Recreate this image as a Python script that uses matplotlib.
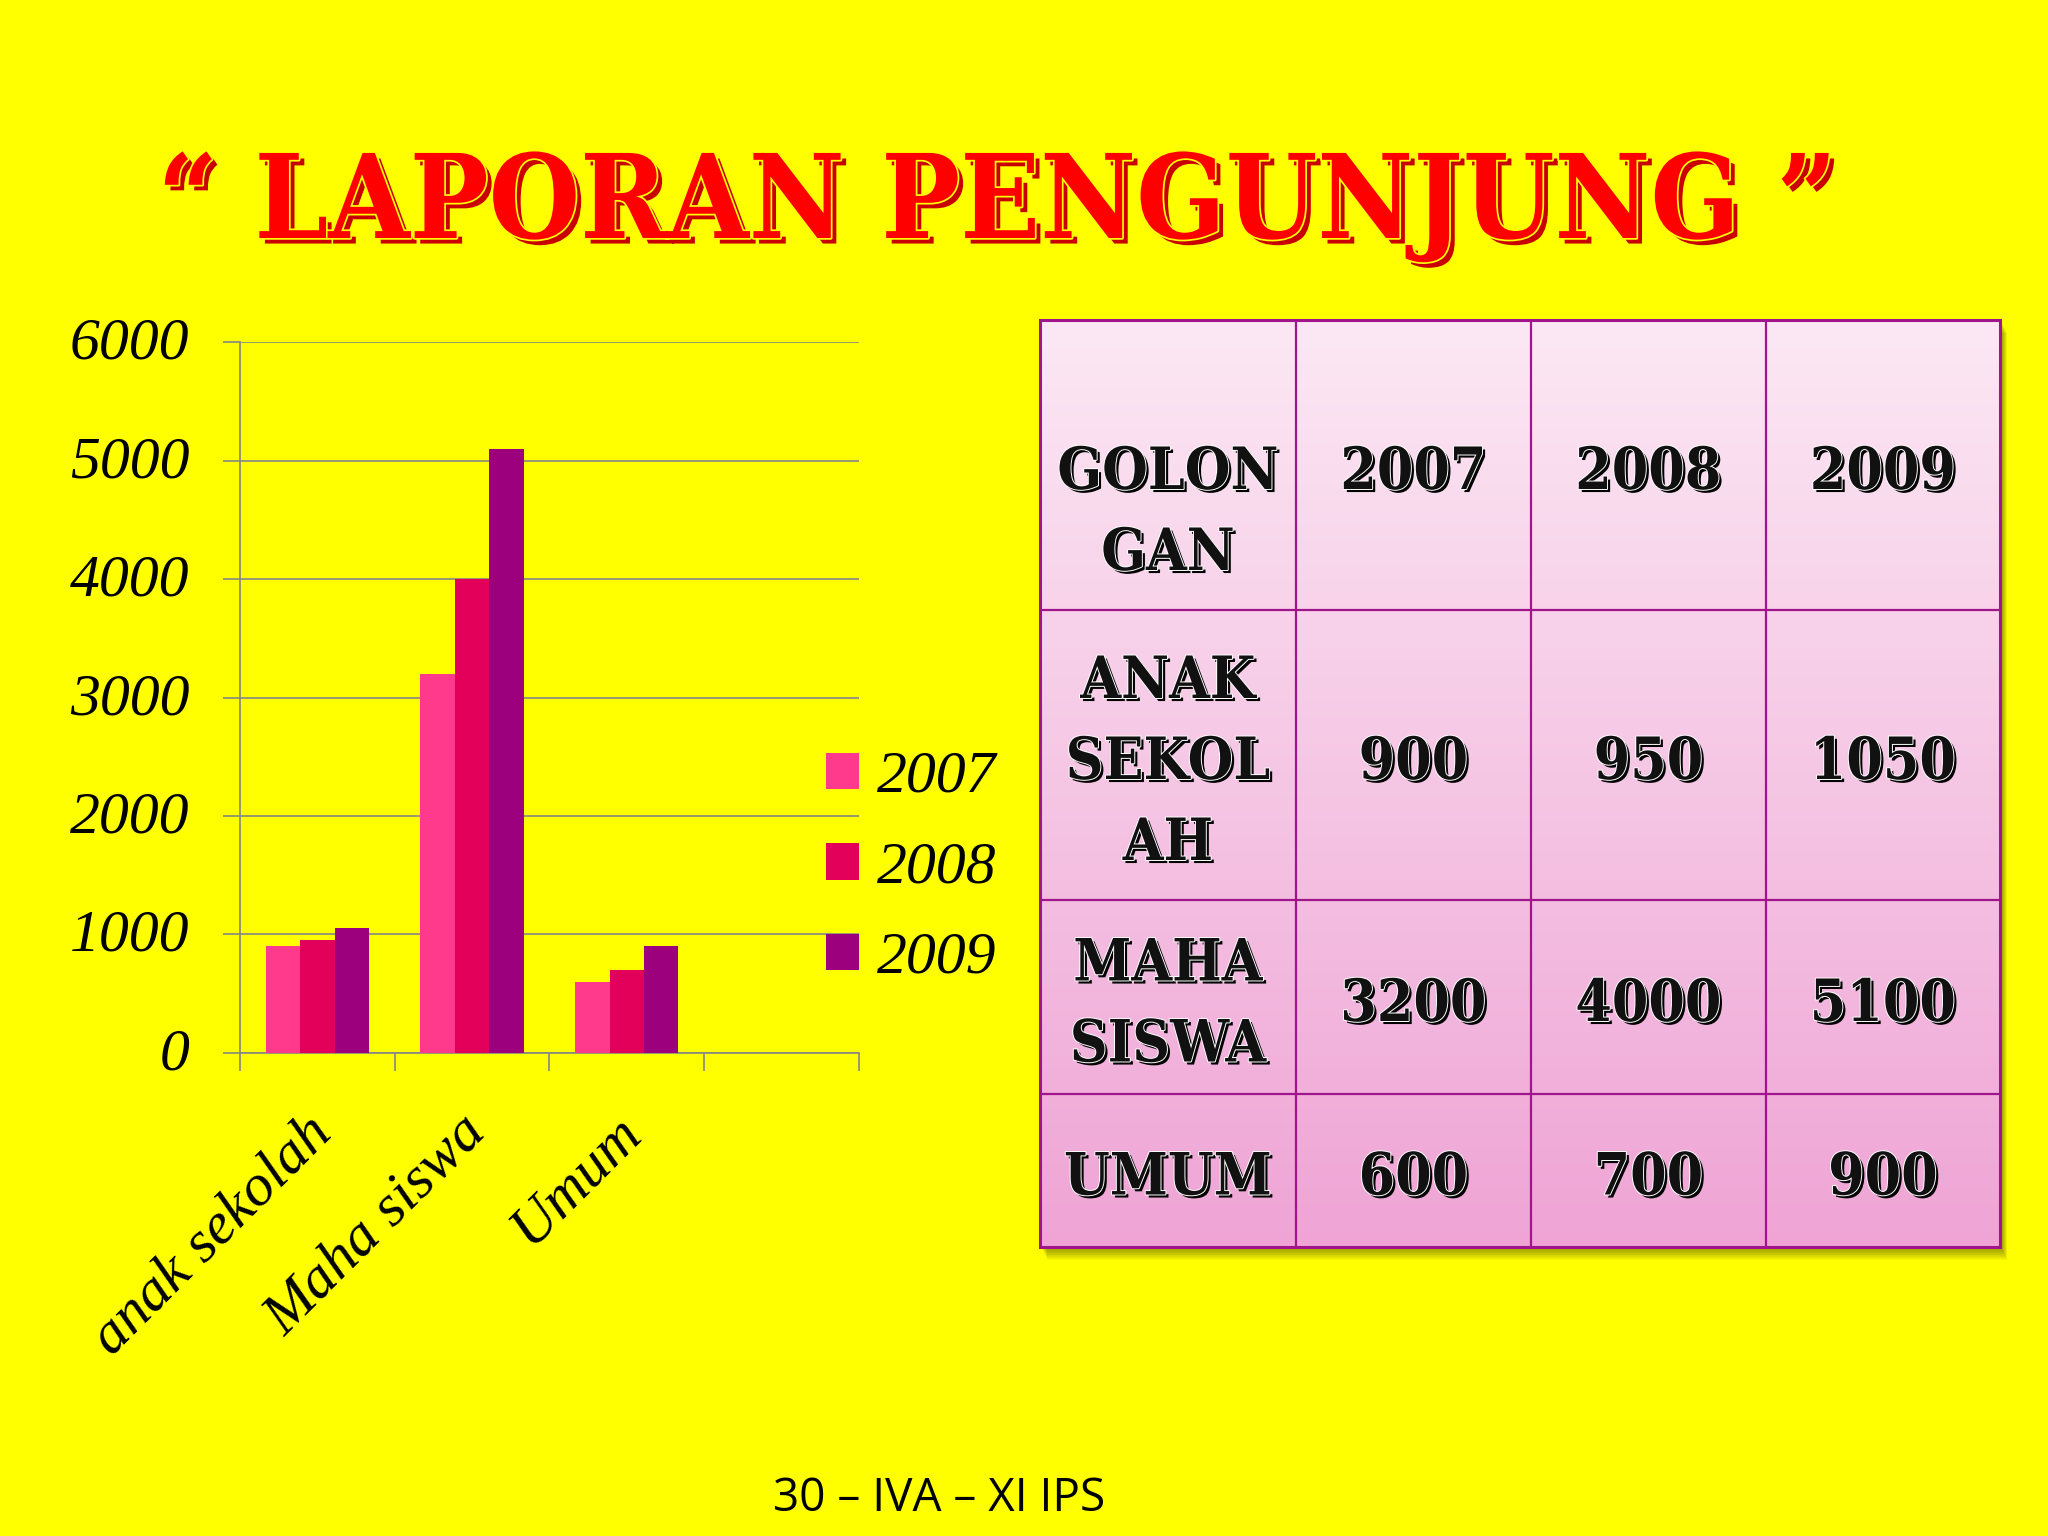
import matplotlib
matplotlib.use('Agg')
import matplotlib.pyplot as plt
import matplotlib.patheffects as pe
from matplotlib.patches import Rectangle
from matplotlib.transforms import ScaledTranslation
from matplotlib.font_manager import FontProperties
from matplotlib import font_manager as fm
import numpy as np

# ---------------- data ----------------
categories = ['anak sekolah', 'Maha siswa', 'Umum']
years = ['2007', '2008', '2009']
v2007 = [900, 3200, 600]
v2008 = [950, 4000, 700]
v2009 = [1050, 5100, 900]
yticks = [0, 1000, 2000, 3000, 4000, 5000, 6000]

table_header = ['GOLON\nGAN', '2007', '2008', '2009']
table_rows = ['ANAK\nSEKOL\nAH', 'MAHA\nSISWA', 'UMUM']

title = '\u201c LAPORAN PENGUNJUNG \u201d'
footer = '30 \u2013 IVA \u2013 XI IPS'

# ---------------- fonts ----------------
def find_font(name):
    for f in fm.fontManager.ttflist:
        if f.fname.endswith(name):
            return f.fname
    return None

cond_path = find_font('DejaVuSerifCondensed-Bold.ttf')


def deco_font(size_cond, size_plain):
    if cond_path:
        return FontProperties(fname=cond_path, size=size_cond)
    return FontProperties(family='DejaVu Serif', weight='bold', size=size_plain)

# ---------------- style ----------------
series = [v2007, v2008, v2009]
colors = ['#FF3A8C', '#E3005A', '#9C007C']
W, H = 2048, 1536
BG = '#FFFF00'
GRID = '#868686'

fig = plt.figure(figsize=(20.48, 15.36), dpi=100, facecolor=BG)

# overlay axes in pixel coordinates (title, table, footer)
ov = fig.add_axes([0, 0, 1, 1])
ov.set_zorder(0)
ov.axis('off')

# title
ov.text(997, 238, title, ha='center', va='baseline',
        fontproperties=deco_font(84, 75),
        color='#FF0000', zorder=5,
        path_effects=[pe.SimplePatchShadow(offset=(4, -4), shadow_rgbFace='#C80000', alpha=1.0),
                      pe.Stroke(linewidth=2.5, foreground=BG), pe.Normal()])

# footer
ov.text(939, 1511, footer, ha='center', va='baseline', fontsize=33,
        family='Open Sans', color='black')

# table
col_x = [1040, 1296, 1531, 1766, 2000]
row_y = [320, 610, 900, 1094, 1247]
tx0, tx1, ty0, ty1 = col_x[0], col_x[-1], row_y[0], row_y[-1]

# drop shadow
for k in range(1, 11):
    ov.add_patch(Rectangle((tx0 + 2 + k * 0.5, ty0 + 3 + k), tx1 - tx0, ty1 - ty0,
                           facecolor='black', edgecolor='none', alpha=0.035, zorder=1))

top_c = np.array([252, 232, 244]) / 255
bot_c = np.array([239, 164, 213]) / 255
t = np.linspace(0, 1, 256)[:, None, None]
grad = top_c[None, None, :] * (1 - t) + bot_c[None, None, :] * t
ov.imshow(grad, extent=(tx0, tx1, ty1, ty0), aspect='auto', zorder=2, interpolation='bilinear')

BORDER = '#A0148C'
for x in col_x[1:-1]:
    ov.plot([x, x], [ty0, ty1], color=BORDER, lw=1.6, zorder=3, solid_capstyle='butt')
for y in row_y[1:-1]:
    ov.plot([tx0, tx1], [y, y], color=BORDER, lw=1.6, zorder=3, solid_capstyle='butt')
ov.add_patch(Rectangle((tx0, ty0), tx1 - tx0, ty1 - ty0, facecolor='none',
                       edgecolor=BORDER, lw=2.2, zorder=4))

cells = [table_header]
for i, name in enumerate(table_rows):
    cells.append([name, str(v2007[i]), str(v2008[i]), str(v2009[i])])

tfont = deco_font(42, 38)
teff = [pe.SimplePatchShadow(offset=(2.2, -2.2), shadow_rgbFace='black', alpha=1.0),
        pe.Stroke(linewidth=1.4, foreground='white'), pe.Normal()]
pitch = 81
cap_half = 21
for r, row in enumerate(cells):
    cy = (row_y[r] + row_y[r + 1]) / 2 + 3
    for c, txt in enumerate(row):
        cx = (col_x[c] + col_x[c + 1]) / 2
        lines = txt.split('\n')
        n = len(lines)
        for k, ln in enumerate(lines):
            if r == 0:
                ly = cy + k * pitch
            else:
                ly = cy + (k - (n - 1) / 2) * pitch
            ov.text(cx, ly + cap_half, ln, ha='center', va='baseline', color='#111111',
                    zorder=6, path_effects=teff, fontproperties=tfont)

ov.set_xlim(0, W)
ov.set_ylim(H, 0)

# ---------------- bar chart ----------------
ax = fig.add_axes([240 / W, (H - 1052.7) / H, 618.7 / W, 710.4 / H])
ax.set_zorder(2)
ax.patch.set_visible(False)

x = np.arange(len(categories))
w = 2 / 9
for j, (vals, col, yr) in enumerate(zip(series, colors, years)):
    ax.bar(x + (j - 1) * w, vals, w, color=col, label=yr, zorder=3, linewidth=0)

ax.set_xlim(-0.5, 3.5)
ax.set_ylim(0, 6000)
ax.set_yticks(yticks)
ax.set_yticklabels([str(v) for v in yticks])
ax.set_axisbelow(True)
ax.yaxis.grid(True, color=GRID, lw=1.2)
for s in ['top', 'right']:
    ax.spines[s].set_visible(False)
for s in ['left', 'bottom']:
    ax.spines[s].set_color(GRID)
    ax.spines[s].set_linewidth(1.2)

lab_font = FontProperties(family='Liberation Serif', style='italic', size=43)
ax.tick_params(axis='y', length=12.5, width=1.2, color=GRID, pad=24)
yoff = ScaledTranslation(0, 4 / 100, fig.dpi_scale_trans)
for lb in ax.get_yticklabels():
    lb.set_fontproperties(lab_font)
    lb.set_transform(lb.get_transform() + yoff)

ax.set_xticks(x)
ax.set_xticklabels(categories)
ax.set_xticks(np.arange(-0.5, 4.0, 1.0), minor=True)
ax.tick_params(axis='x', which='major', length=0, pad=38)
ax.tick_params(axis='x', which='minor', length=13, width=1.2, color=GRID)
xl_font = FontProperties(family='Liberation Serif', style='italic', size=43)
off = ScaledTranslation(25 / 100, 0, fig.dpi_scale_trans)
for lb in ax.get_xticklabels():
    lb.set_fontproperties(xl_font)
    lb.set_rotation(45)
    lb.set_ha('right')
    lb.set_va('top')
    lb.set_transform(lb.get_transform() + off)

leg = ax.legend(loc='upper left', bbox_to_anchor=(825.7 / W, (H - 751) / H),
                bbox_transform=fig.transFigure, frameon=False, prop=lab_font,
                handlelength=0.56, handleheight=0.56, handletextpad=0.3,
                labelspacing=0.61, borderpad=0, borderaxespad=0)

fig.savefig('out.png', dpi=100, facecolor=BG)
